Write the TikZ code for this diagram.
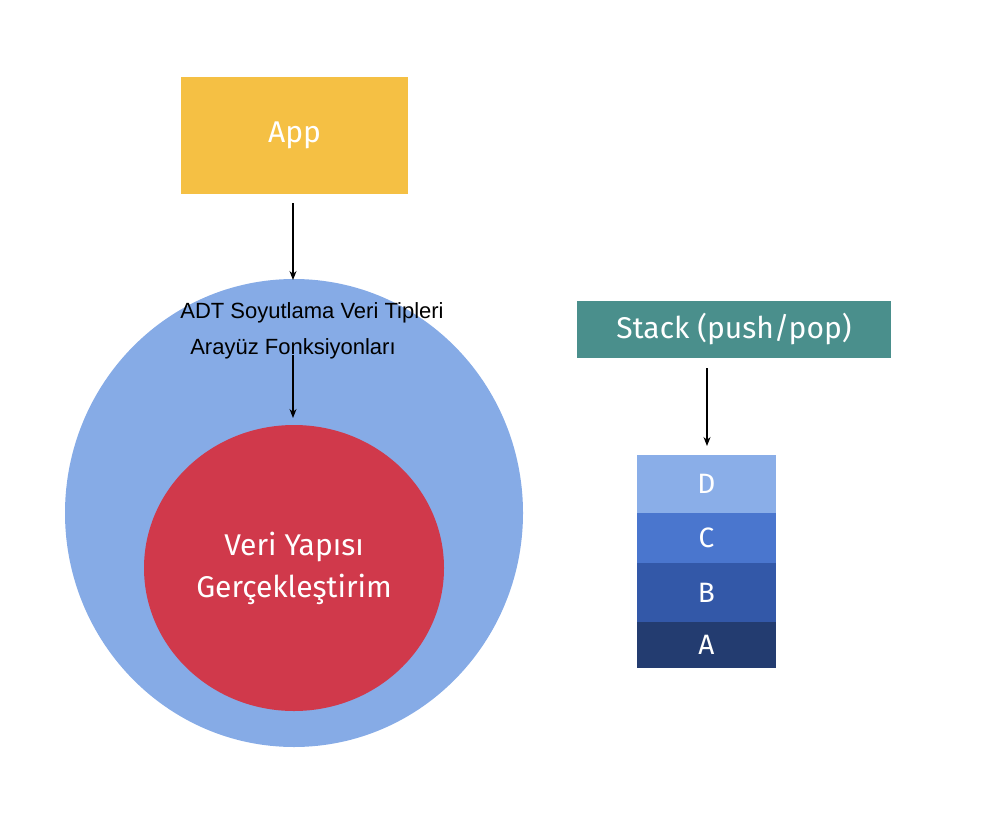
\documentclass[tikz,border=0pt]{standalone}
\usepackage{fontspec}
\setmainfont{Fira Sans}
\newfontfamily\arialf{Liberation Sans}
\usetikzlibrary{arrows.meta,shapes.geometric}
\definecolor{appc}{HTML}{F5C044}
\definecolor{outc}{HTML}{86ABE6}
\definecolor{inc}{HTML}{D0394B}
\definecolor{stc}{HTML}{4A8F8C}
\definecolor{dc}{HTML}{8AAEE8}
\definecolor{cc}{HTML}{4A76CE}
\definecolor{bc}{HTML}{3358A8}
\definecolor{ac}{HTML}{233C70}
\begin{document}
\begin{tikzpicture}[x=1pt,y=-1pt,
  arr/.style={-{Stealth[length=9pt,width=7pt]},line width=1.2pt},
  wt/.style={text=white,font=\fontsize{30}{38}\selectfont,align=center},
  cell/.style={draw=none,minimum width=139pt,inner sep=0pt,text=white,font=\fontsize{28}{32}\selectfont}]
\useasboundingbox (0,0) rectangle (984,824);
\node[fill=appc,minimum width=227pt,minimum height=117pt,wt] (app) at (294.5,135.5) {App};
\node[ellipse,fill=outc,minimum width=458pt,minimum height=468pt,inner sep=0pt] (outer) at (294,513) {};
\node[ellipse,fill=inc,minimum width=300pt,minimum height=286pt,inner sep=0pt,wt] (inner) at (294,568) {Veri Yapısı\\[4pt]Gerçekleştirim};
\node[font=\arialf\fontsize{22}{36}\selectfont,align=center,inner sep=0pt] (adt) at (312,331) {ADT Soyutlama Veri Tipleri\\\hspace*{-38pt}Arayüz Fonksiyonları};
\coordinate (a1) at (293,203);
\coordinate (a2) at (293,280);
\draw[arr] (a1) -- (a2);
\coordinate (b1) at (293,355);
\coordinate (b2) at (293,418);
\draw[arr] (b1) -- (b2);
\node[fill=stc,minimum width=314pt,minimum height=57pt,inner sep=0pt,text=white,font=\fontsize{30}{36}\selectfont] (stack) at (734,329.5) {Stack (push/pop)};
\node[cell,fill=dc,minimum height=58pt] (D) at (706.5,484) {D};
\node[cell,fill=cc,minimum height=50pt] (C) at (706.5,538) {C};
\node[cell,fill=bc,minimum height=59pt] (B) at (706.5,592.5) {B};
\node[cell,fill=ac,minimum height=46pt] (A) at (706.5,645) {A};
\coordinate (c1) at (707,368);
\coordinate (c2) at (707,446);
\draw[arr] (c1) -- (c2);
\end{tikzpicture}
\end{document}
